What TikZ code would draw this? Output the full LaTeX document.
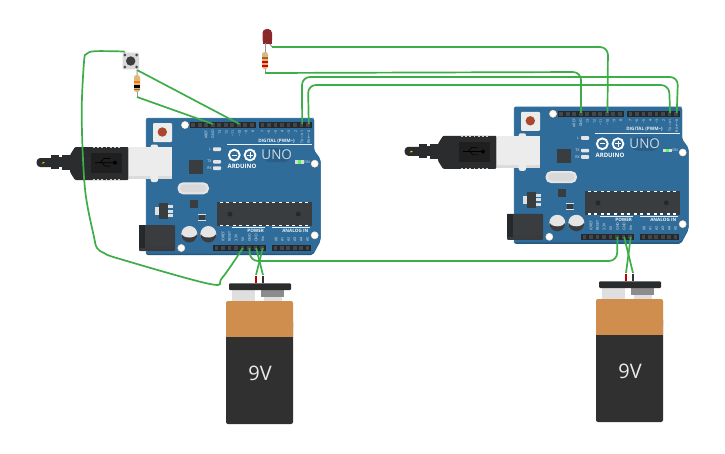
\documentclass[tikz,border=0pt]{standalone}
\usepackage{fontspec}
\setmainfont{Open Sans}

\definecolor{boardblue}{HTML}{2F6C9A}
\definecolor{boardedge}{HTML}{4A86B2}
\definecolor{boarddark}{HTML}{25587F}
\definecolor{headerdark}{HTML}{26292C}
\definecolor{pindark}{HTML}{43474B}
\definecolor{chipdark}{HTML}{3A3D40}
\definecolor{plugdark}{HTML}{2B2C2D}
\definecolor{wiregreen}{HTML}{3DAE47}
\definecolor{batorange}{HTML}{CF8D4E}
\definecolor{batdark}{HTML}{303030}
\definecolor{restan}{HTML}{DDB877}
\definecolor{resetred}{HTML}{A9472F}
\definecolor{ledred}{HTML}{8A2729}

\tikzset{
	wire/.style={draw=wiregreen, line width=1.7pt, rounded corners=8pt},
	lead/.style={draw=gray!80, line width=1pt},
	pinlabel/.style={text=white!90!boardblue, font=\fontsize{3.6}{4}\selectfont, rotate=90, inner sep=0pt},
	ledlabel/.style={text=white!90!boardblue, font=\fontsize{3.6}{4}\selectfont, inner sep=0pt},
	boardlabel/.style={text=white!90!boardblue, font=\fontsize{4.6}{5}\selectfont\bfseries, inner sep=0pt},
	hole/.style={fill=white, draw=orange!25!white, line width=0.6pt},
	smallled/.style={fill=white!80!gray, rounded corners=0.8pt},
}

% One board with its cable, #1 is the name prefix, #2 the position
\newcommand{\unoboard}[2]{
	\begin{scope}[shift={#2}]
		% Outline
		\fill[boarddark, rounded corners=2pt] (0,1) -- (168,1) -- (168,33) -- (174.5,42) -- (174.5,123) -- (167,137) -- (0,137) -- cycle;
		\fill[boardblue, rounded corners=2pt] (0,0) -- (168,0) -- (168,32) -- (174.5,41) -- (174.5,122) -- (167,135.5) -- (0,135.5) -- cycle;
		\draw[boardedge, line width=0.5pt, rounded corners=2pt] (0,135) -- (0,0) -- (168,0);

		% Holes
		\draw[hole] (39,7) circle (3.5);
		\draw[hole] (168.7,45.7) circle (3.5);
		\draw[hole] (168.7,117.3) circle (3.5);
		\draw[hole] (35.3,130) circle (3.5);

		% Reset button
		\fill[white!85!gray, rounded corners=1pt] (7,5) rectangle (26,24);
		\fill[resetred] (16.3,14) circle (4.7);

		% Headers
		\fill[headerdark] (44,4) rectangle (110,10);
		\fill[headerdark] (113,4) rectangle (166,10);
		\fill[headerdark] (67,127) rectangle (120,133);
		\fill[headerdark] (126,127) rectangle (165,133);
		\foreach \n in {1,...,10} {
			\fill[pindark] ({45.2+6.5*(\n-1)},5.2) rectangle ++(3.8,3.8);
			\coordinate (#1top\n) at ({47+6.64*(\n-1)},6);
		}
		\foreach \n in {1,...,8} {
			\fill[pindark] ({114.6+6.5*(\n-1)},5.2) rectangle ++(3.8,3.8);
			\coordinate (#1dig\n) at ({116.3+6.64*(\n-1)},6);
			\fill[pindark] ({68.6+6.5*(\n-1)},128.2) rectangle ++(3.8,3.8);
			\coordinate (#1pow\n) at ({70.3+6.64*(\n-1)},130);
		}
		\foreach \n in {1,...,6}
			\fill[pindark] ({127.6+6.4*(\n-1)},128.2) rectangle ++(3.8,3.8);

		% Pin labels
		\foreach \x/\t [count=\k] in {60.2/AREF,66.9/GND,73.5/13,80.2/12,86.8/\textasciitilde11,93.5/\textasciitilde10,100.1/\textasciitilde9,106.8/8,
			116.3/7,122.9/\textasciitilde6,129.6/\textasciitilde5,136.2/4,142.9/\textasciitilde3,149.5/2} {
			\node[pinlabel, anchor=east] (#1lab\k) at (\x,12) {\t};
		}
		\node[pinlabel, anchor=east] (#1labone) at (156.1,12) {TX$\rightarrow$1};
		\node[pinlabel, anchor=east] (#1labzero) at (162.8,12) {RX$\leftarrow$0};
		\foreach \x/\t [count=\k] in {77/IOREF,83.6/RESET,90.2/3.3V,96.9/5V,103.5/GND,110.1/GND,116.8/Vin,130/A0,136.3/A1,142.6/A2,148.9/A3,155.2/A4,161.5/A5} {
			\node[pinlabel, anchor=west] (#1low\k) at (\x,124) {\t};
		}
		\draw[white!90!boardblue, line width=0.4pt] (81,26) -- (166,26);
		\draw[white!90!boardblue, line width=0.4pt] (86.3,109.3) -- (119,109.3);
		\draw[white!90!boardblue, line width=0.4pt] (126,109.3) -- (164,109.3);
		\node[boardlabel, anchor=east] (#1digital) at (149,22.8) {DIGITAL (PWM\textasciitilde)};
		\node[boardlabel] (#1power) at (109.7,112.8) {POWER};
		\node[boardlabel] (#1analog) at (149.3,112.8) {ANALOG IN};

		% Small LEDs
		\fill[smallled] (67,29.3) rectangle (75,33);
		\fill[smallled] (67,42) rectangle (75,45.5);
		\fill[smallled] (67,48.3) rectangle (75,52);
		\node[ledlabel] (#1ledl) at (64,31) {L};
		\node[ledlabel] (#1ledtx) at (63.5,43.7) {TX};
		\node[ledlabel] (#1ledrx) at (63.5,50) {RX};
		\fill[white!70!gray] (148.5,42) rectangle (158,45.6);
		\fill[green!70!white] (151.5,42) rectangle (155,45.6);
		\node[ledlabel] (#1ledon) at (161,43.8) {ON};

		% Logo
		\fill[boarddark!70!boardblue, rounded corners=5pt] (118,30) rectangle (144,44);
		\draw[white, line width=1.9pt] (88.3,37) circle (5.4);
		\draw[white, line width=1.9pt] (104,37) circle (5.4);
		\draw[white, line width=0.9pt] (85.5,37) -- (91,37);
		\draw[white, line width=0.9pt] (101.2,37) -- (106.8,37) (104,34.2) -- (104,39.8);
		\node[inner sep=0pt, text=white, font=\fontsize{6}{6}\selectfont\bfseries] (#1arduino) at (96,48.7) {ARDUINO};
		\node[inner sep=0pt, text=white!75!boardblue, font=\fontsize{13.5}{14}\selectfont] (#1uno) at (130.7,37) {UNO};

		% Chips
		\fill[chipdark] (42.8,42) rectangle (56.7,56);
		\fill[chipdark] (43.7,82) rectangle (51.7,90);
		\fill[chipdark] (71,84.3) rectangle (166,107.7);
		\foreach \n in {0,...,13} {
			\fill[white] ({73.5+6.6*\n},84.3) rectangle ++(3,1.1);
			\fill[white] ({73.5+6.6*\n},106.6) rectangle ++(3,1.1);
		}
		\fill[headerdark] (84,96) circle (2.5);
		\fill[headerdark] (152.3,96) circle (2.5);

		% Crystal
		\fill[white!80!gray, rounded corners=5.5pt] (31.5,64.3) rectangle (63,76.3);
		\fill[white!70!gray, rounded corners=4pt] (34,66.3) rectangle (60.5,74.3);

		% Regulator and transistor
		\fill[white!75!gray] (9,89) rectangle (13.5,97);
		\fill[chipdark] (13.3,84.7) rectangle (22.3,101.3);
		\foreach \y in {87,91.5,96}
			\fill[white!75!gray] (22.3,\y) rectangle ++(5,3);
		\fill[chipdark] (52.5,96) rectangle (58.5,103);
		\foreach \y in {96,102}
			\fill[white!75!gray] (51.5,\y) rectangle ++(8,1);

		% Capacitors
		\foreach \x in {43.3,62.3} {
			\fill[white!80!gray] (\x,116) circle (8);
			\fill[chipdark] (\x-8,116.5) arc[start angle=180, end angle=360, x radius=8, y radius=-8] -- cycle;
			\fill[white!80!gray] (\x,116) ellipse (7 and 3.5);
		}

		% Power jack
		\fill[headerdark!80!gray, rounded corners=1pt] (-7,107) rectangle (29,133);
		\fill[headerdark] (-7,107) rectangle (-1,130);
		\fill[chipdark, rounded corners=2pt] (-1,107.5) rectangle (28.5,128);

		% Cable
		\fill[white!85!gray] (-17,29) rectangle (26,61);
		\fill[white!72!gray] (-17,58) rectangle (26,61);
		\fill[white!85!gray, rounded corners=2pt] (4.7,26.5) rectangle (12,64);
		\fill[plugdark, rounded corners=1pt] (-76,37) -- (-71,29) -- (-17.7,29) -- (-17.7,62) -- (-71,62) -- (-76,54) -- cycle;
		\fill[black!88!white] (-55,35) rectangle (-24,55);
		\foreach \n in {0,...,6} {
			\fill[white!60!gray] ({-53+4.2*\n},29) rectangle ++(1.8,1);
			\fill[white!60!gray] ({-53+4.2*\n},61) rectangle ++(1.8,1);
		}
		\draw[black, line width=0.6pt] (-51,44.7) -- (-31,44.7) (-46,44.7) -- (-42,40.5) -- (-36,40.5) (-44,44.7) -- (-41,48) -- (-36,48);
		\fill[black] (-31,44.7) circle (2);
		\fill[plugdark] (-95.3,37) rectangle (-87,51);
		\fill[plugdark] (-87,39) rectangle (-84,49);
		\fill[plugdark] (-84,37) rectangle (-76,52);
		\fill[plugdark, rounded corners=3.5pt] (-109.3,40) rectangle (-90,49);
		\fill[yellow!85!orange] (-104.5,45.3) -- (-102,43.8) -- (-102.5,44.8) -- (-101,44.3) -- (-103.5,46) -- (-103,45) -- cycle;
	\end{scope}
}

% One battery, #1 is the name prefix, #2 the position
\newcommand{\ninevolt}[2]{
	\begin{scope}[shift={#2}]
		% Snap
		\fill[white!75!gray] (232,290) rectangle (255,301);
		\fill[white!75!gray] (264,296) rectangle (282,301);
		\fill[gray!90!white] (261,290) rectangle (284,297);
		\fill[plugdark, rounded corners=1pt] (229,283.3) rectangle (291,290);
		% Body
		\fill[batdark, rounded corners=2pt] (226,320) rectangle (293,424);
		\fill[batorange, rounded corners=2pt] (226,301) rectangle (293,330);
		\fill[batorange] (226,310) rectangle (293,337);
		\node[text=white!85!gray, font=\fontsize{20}{20}\selectfont, inner sep=0pt] (#1volt) at (260,373) {9V};
		% Clip leads
		\draw[draw=red!75!black, line width=2.6pt] (256,276) -- (256,283);
		\draw[draw=black!80, line width=2.6pt] (263,276) -- (263,283);
		\coordinate (#1red) at (256,275);
		\coordinate (#1black) at (263,275);
	\end{scope}
}

\begin{document}
\begin{tikzpicture}[x=1pt,y=-1pt]
	\useasboundingbox (0,0) rectangle (725,453);
	\fill[white] (0,0) rectangle (725,453);

	% Boards
	\unoboard{a}{(146,118)}
	\unoboard{b}{(514,106.8)}

	% Batteries
	\ninevolt{p}{(0,0)}
	\ninevolt{q}{(370,-2)}

	% Button
	\fill[white!70!gray, rounded corners=0.8pt] (122.7,52.7) rectangle (139,69.3);
	\fill[gray!60!black] (124.8,55) circle (1.5) (136.7,55) circle (1.5) (124.8,67) circle (1.5) (136.7,67) circle (1.5);
	\fill[chipdark] (130.7,61) circle (4.7);
	\coordinate (btnleft) at (124.5,51.5);
	\coordinate (btnright) at (137,70);
	\draw[lead] (btnleft) -- (125,53) (btnright) -- (137,75);

	% Pull-down resistor
	\coordinate (restop) at (137,75);
	\coordinate (resbot) at (137,97);
	\draw[lead] (restop) -- (resbot);
	\fill[restan, rounded corners=2.5pt] (134,75) rectangle (140,92);
	\fill[orange!90!red] (134,80.5) rectangle (140,83.3);
	\fill[black] (134,85) rectangle (140,87.5);
	\fill[brown!80!black] (134,88.6) rectangle (140,90);

	% LED and its resistor
	\coordinate (ledtop) at (265,48);
	\coordinate (ledend) at (272,47);
	\coordinate (resend) at (265,73);
	\draw[lead] (269,43) -- (ledend);
	\draw[lead] (ledtop) -- (resend);
	\fill[ledred, rounded corners=4pt] (262.5,29) rectangle (272,44);
	\fill[ledred] (262.5,38) rectangle (272,44);
	\draw[lead] (265,43) -- (ledtop);
	\fill[restan, rounded corners=2.5pt] (262,52) rectangle (268,69);
	\fill[brown!80!black] (262,56.5) rectangle (268,58.5);
	\fill[red!85!black] (262,60.5) rectangle (268,62.5);
	\fill[red!85!black] (262,65) rectangle (268,66.8);

	% Wires on the first board
	\draw[wire] (btnright) -- (atop8);
	\draw[wire] (resbot) -- (atop4);
	\draw[wire, rounded corners=0pt] plot[smooth, tension=0.55] coordinates {(btnleft) (95,51.2) (86.5,54) (84,62) (81.7,116) (85,189) (94,237) (97,248) (104,253) (120,259) (210,284) (222,278) (apow5)};

	% Wires between the boards
	\draw[wire] (ledend) -- (608,47) -- (btop8);
	\draw[wire] (resend) -- (581,72) -- (btop4);
	\draw[wire] (adig7) -- (302,77) -- (678,77) -- (bdig8);
	\draw[wire] (adig8) -- (308,85) -- (669,85) -- (bdig7);
	\draw[wire] (apow6) -- (250,261) -- (617,261) -- (bpow6);

	% Battery wires
	\draw[wire] (pred) -- (apow8);
	\draw[wire] (pblack) -- (apow7);
	\draw[wire] (qred) -- (bpow8);
	\draw[wire] (qblack) -- (bpow7);
\end{tikzpicture}
\end{document}
